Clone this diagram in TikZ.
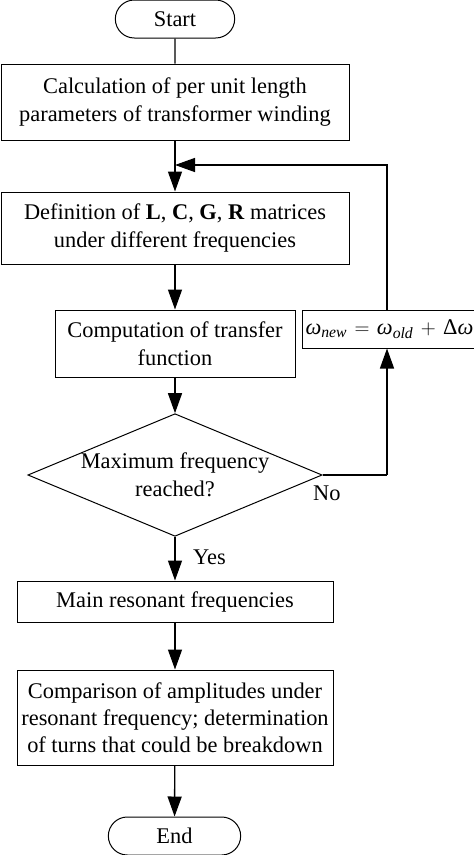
\documentclass[tikz,border=0pt]{standalone}
\usepackage{fontspec}
\setmainfont{Liberation Serif}
\usetikzlibrary{shapes.geometric,shapes.misc,arrows.meta}
\begin{document}
\begin{tikzpicture}[x=1pt,y=1pt,font=\fontsize{22.4}{28}\selectfont]
		% Estilos para os nós
		\tikzstyle{startstop} = [rounded rectangle, minimum width=126pt, minimum height=38pt, text centered, draw=black, line width=1pt]
		\tikzstyle{process} = [rectangle, inner sep=2pt, align=center, draw=black, line width=1pt]
		\tikzstyle{decision} = [diamond, aspect=2.4, minimum width=289pt, minimum height=120pt, inner sep=0pt, align=center, draw=black, line width=1pt]
		\tikzstyle{arrow} = [line width=1.4pt,-{Triangle[length=20pt,width=14pt]}]
		\tikzstyle{line} = [line width=1.4pt]
		\useasboundingbox (0,0) rectangle (474,-855);
		% Nós
		\node (start) [startstop] at (175,-19) {Start};
		\node (calc) [process, minimum width=348pt, minimum height=76pt] at (175,-102) {Calculation of per unit length\\parameters of transformer winding};
		\node (defn) [process, minimum width=348pt, minimum height=72pt] at (175,-228) {Definition of \textbf{L}, \textbf{C}, \textbf{G}, \textbf{R} matrices\\under different frequencies};
		\node (comp) [process, minimum width=240pt, minimum height=67pt] at (175,-343.5) {Computation of transfer\\function};
		\node (upd) [process, anchor=west, text width=185pt, align=left, minimum height=38pt, inner xsep=3pt] at (302,-329) {\textit{ω}\textsubscript{\textit{new}} $=$ \textit{ω}\textsubscript{\textit{old}} $+$ Δ\textit{ω}};
		\node (dec) [decision] at (175,-475) {Maximum frequency\\reached?};
		\node (main) [process, minimum width=316pt, minimum height=41pt] at (175,-601.5) {Main resonant frequencies};
		\node (cmp) [process, minimum width=316pt, minimum height=95pt, font=\fontsize{22.4}{27}\selectfont] at (175,-717.5) {Comparison of amplitudes under\\resonant frequency; determination\\of turns that could be breakdown};
		\node (stop) [startstop, minimum width=139pt] at (174.5,-836) {End};
		\node (no) [anchor=west, inner sep=0pt] at (313,-493) {No};
		\node (yes) [anchor=west, inner sep=0pt] at (193,-557) {Yes};
		\coordinate (join) at (175,-165);
		\coordinate (loop) at (387,-475);
		% Setas
		\draw [line] (start) -- (calc);
		\draw [arrow] (calc) -- (defn);
		\draw [arrow] (defn) -- (comp);
		\draw [arrow] (comp) -- (dec);
		\draw [arrow] (dec) -- (main);
		\draw [arrow] (main) -- (cmp);
		\draw [arrow] (cmp) -- (stop);
		\draw [line] (dec.east) -- (loop);
		\draw [arrow] (loop) -- (loop |- upd.south);
		\draw [arrow] (loop |- upd.north) |- (join);
	\end{tikzpicture}
\end{document}
